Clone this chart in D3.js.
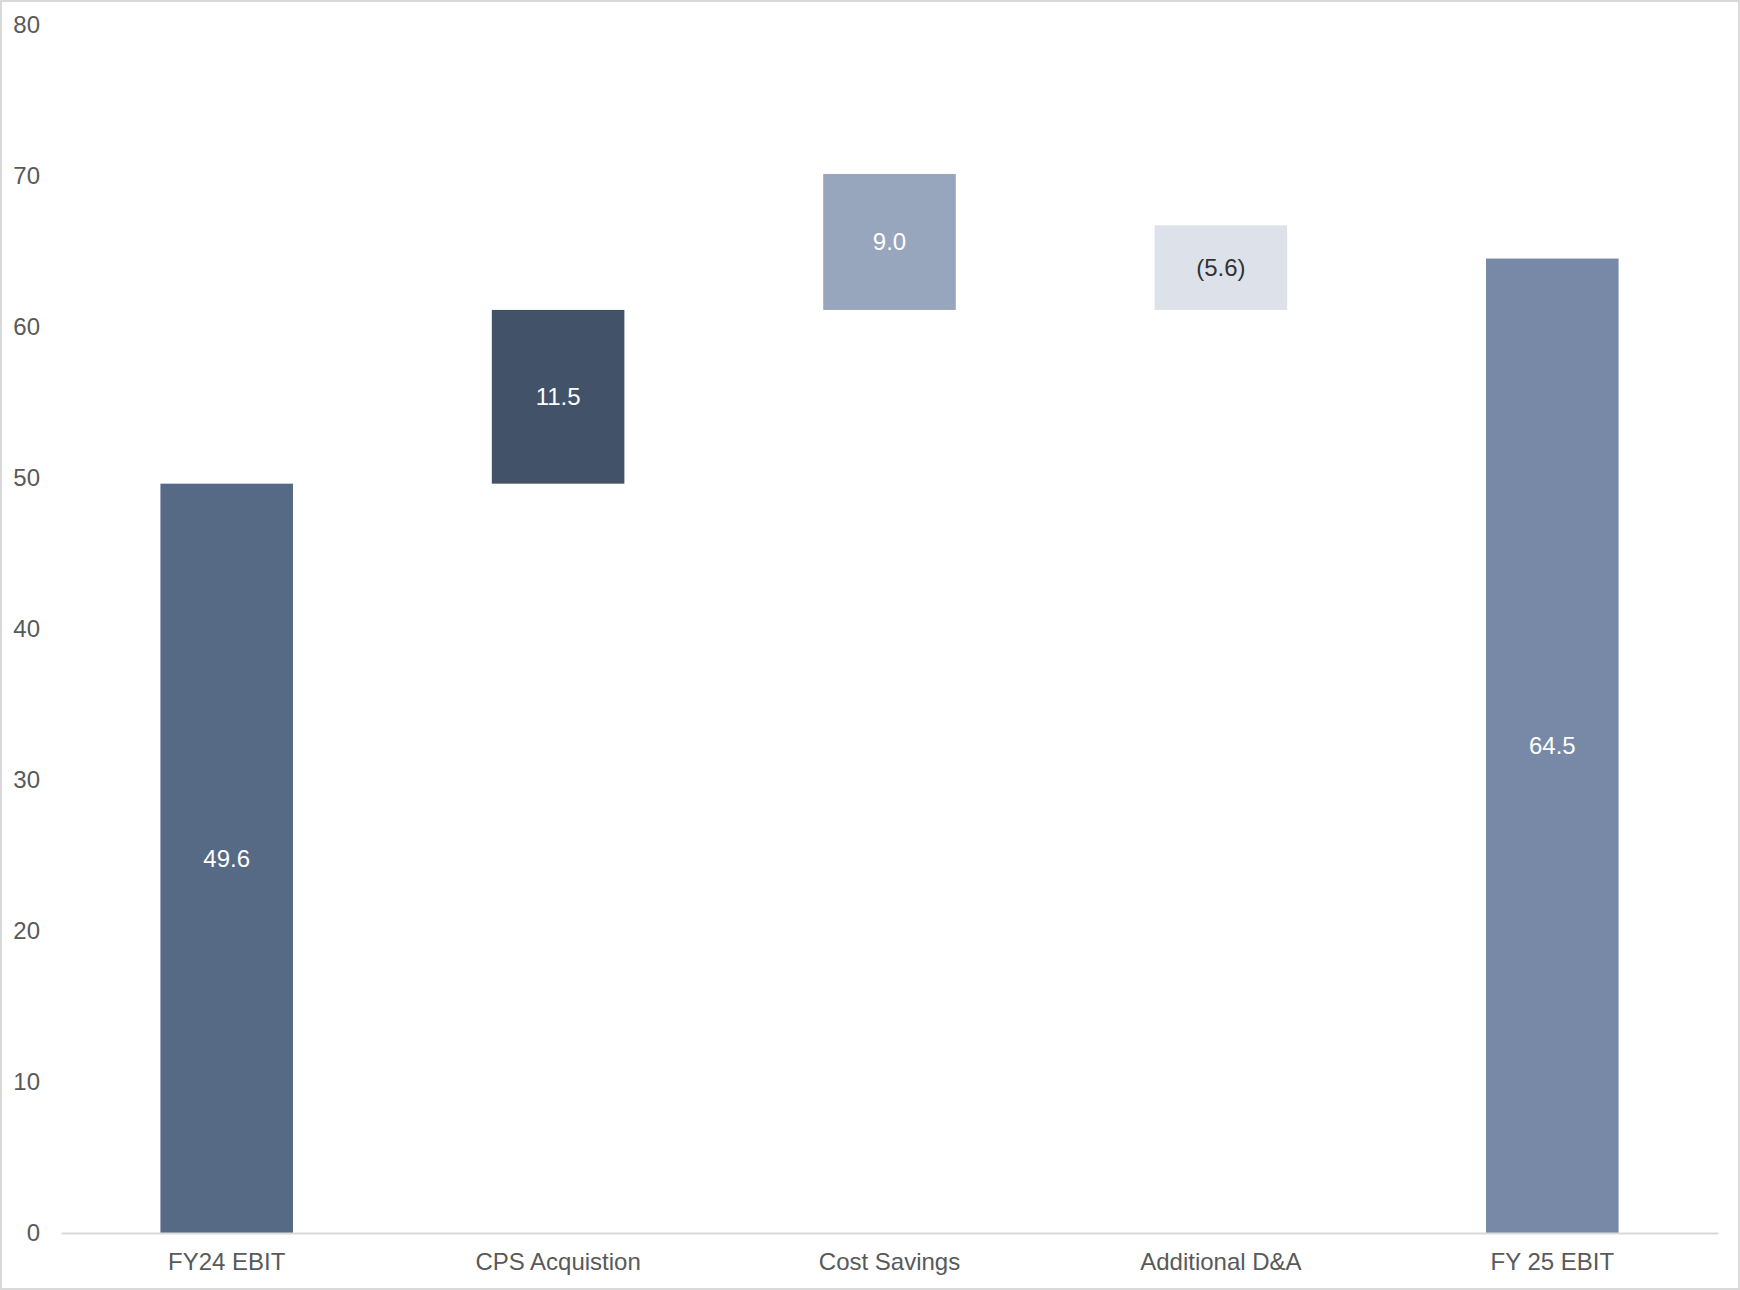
<!DOCTYPE html>
<html>
<head>
<meta charset="utf-8">
<script src="https://cdn.jsdelivr.net/npm/d3@7"></script>
<style>
  body { margin: 0; background: #fff; }
  svg { display: block; font-family: "Liberation Sans", Arial, sans-serif; }
</style>
</head>
<body>
<div id="chart"></div>
<script>
const categories = ["FY24 EBIT", "CPS Acquistion", "Cost Savings", "Additional D&A", "FY 25 EBIT"];
const barBase = [0, 49.6, 61.1, 61.1, 0];
const barSize = [49.6, 11.5, 9.0, 5.6, 64.5];
const barLabels = ["49.6", "11.5", "9.0", "(5.6)", "64.5"];
const barColors = ["#566a86", "#425268", "#97a6bc", "#dde2ea", "#7789a6"];
const labelColors = ["#ffffff", "#ffffff", "#ffffff", "#333333", "#ffffff"];
const yTicks = [0, 10, 20, 30, 40, 50, 60, 70, 80];

const fullWidth = 1740, fullHeight = 1290;
const margin = { top: 24.4, right: 22, bottom: 57, left: 61 };
const width = fullWidth - margin.left - margin.right;
const height = fullHeight - margin.top - margin.bottom;

const svg = d3.select("#chart")
  .append("svg")
  .attr("width", fullWidth)
  .attr("height", fullHeight);

// outer frame
svg.append("rect")
  .attr("x", 1).attr("y", 1)
  .attr("width", fullWidth - 2).attr("height", fullHeight - 2)
  .attr("fill", "none")
  .attr("stroke", "#d9d9d9")
  .attr("stroke-width", 2);

const g = svg.append("g")
  .attr("transform", `translate(${margin.left},${margin.top})`);

const x = d3.scaleBand()
  .domain(categories)
  .range([0, width])
  .paddingInner(0.6)
  .paddingOuter(0.3);

const y = d3.scaleLinear()
  .domain([0, 80])
  .range([height, 0]);

// y axis labels only
const yAxis = g.append("g")
  .attr("transform", "translate(-21,0)")
  .call(d3.axisLeft(y).tickValues(yTicks).tickSize(0).tickPadding(0));
yAxis.select(".domain").remove();
yAxis.selectAll("text")
  .style("font-size", "24px")
  .style("font-family", "Liberation Sans, Arial, sans-serif")
  .attr("fill", "#595959");

// bars
const rows = categories.map((c, i) => ({ c, i, base: barBase[i], size: barSize[i] }));

g.selectAll("rect.bar")
  .data(rows)
  .enter()
  .append("rect")
  .attr("class", "bar")
  .attr("x", d => x(d.c))
  .attr("width", x.bandwidth())
  .attr("y", d => y(d.base + d.size))
  .attr("height", d => y(d.base) - y(d.base + d.size))
  .attr("fill", d => barColors[d.i]);

g.selectAll("text.val")
  .data(rows)
  .enter()
  .append("text")
  .attr("class", "val")
  .attr("x", d => x(d.c) + x.bandwidth() / 2)
  .attr("y", d => y(d.base + d.size / 2))
  .attr("dy", "0.35em")
  .attr("text-anchor", "middle")
  .style("font-size", "24px")
  .attr("fill", d => labelColors[d.i])
  .text(d => barLabels[d.i]);

// x axis
const xAxis = g.append("g")
  .attr("transform", `translate(0,${height})`)
  .call(d3.axisBottom(x).tickSize(0).tickPadding(20));
xAxis.select(".domain")
  .attr("stroke", "#d9d9d9")
  .attr("stroke-width", 2);
xAxis.selectAll("text")
  .style("font-size", "24px")
  .style("font-family", "Liberation Sans, Arial, sans-serif")
  .attr("fill", "#595959");
</script>
</body>
</html>
